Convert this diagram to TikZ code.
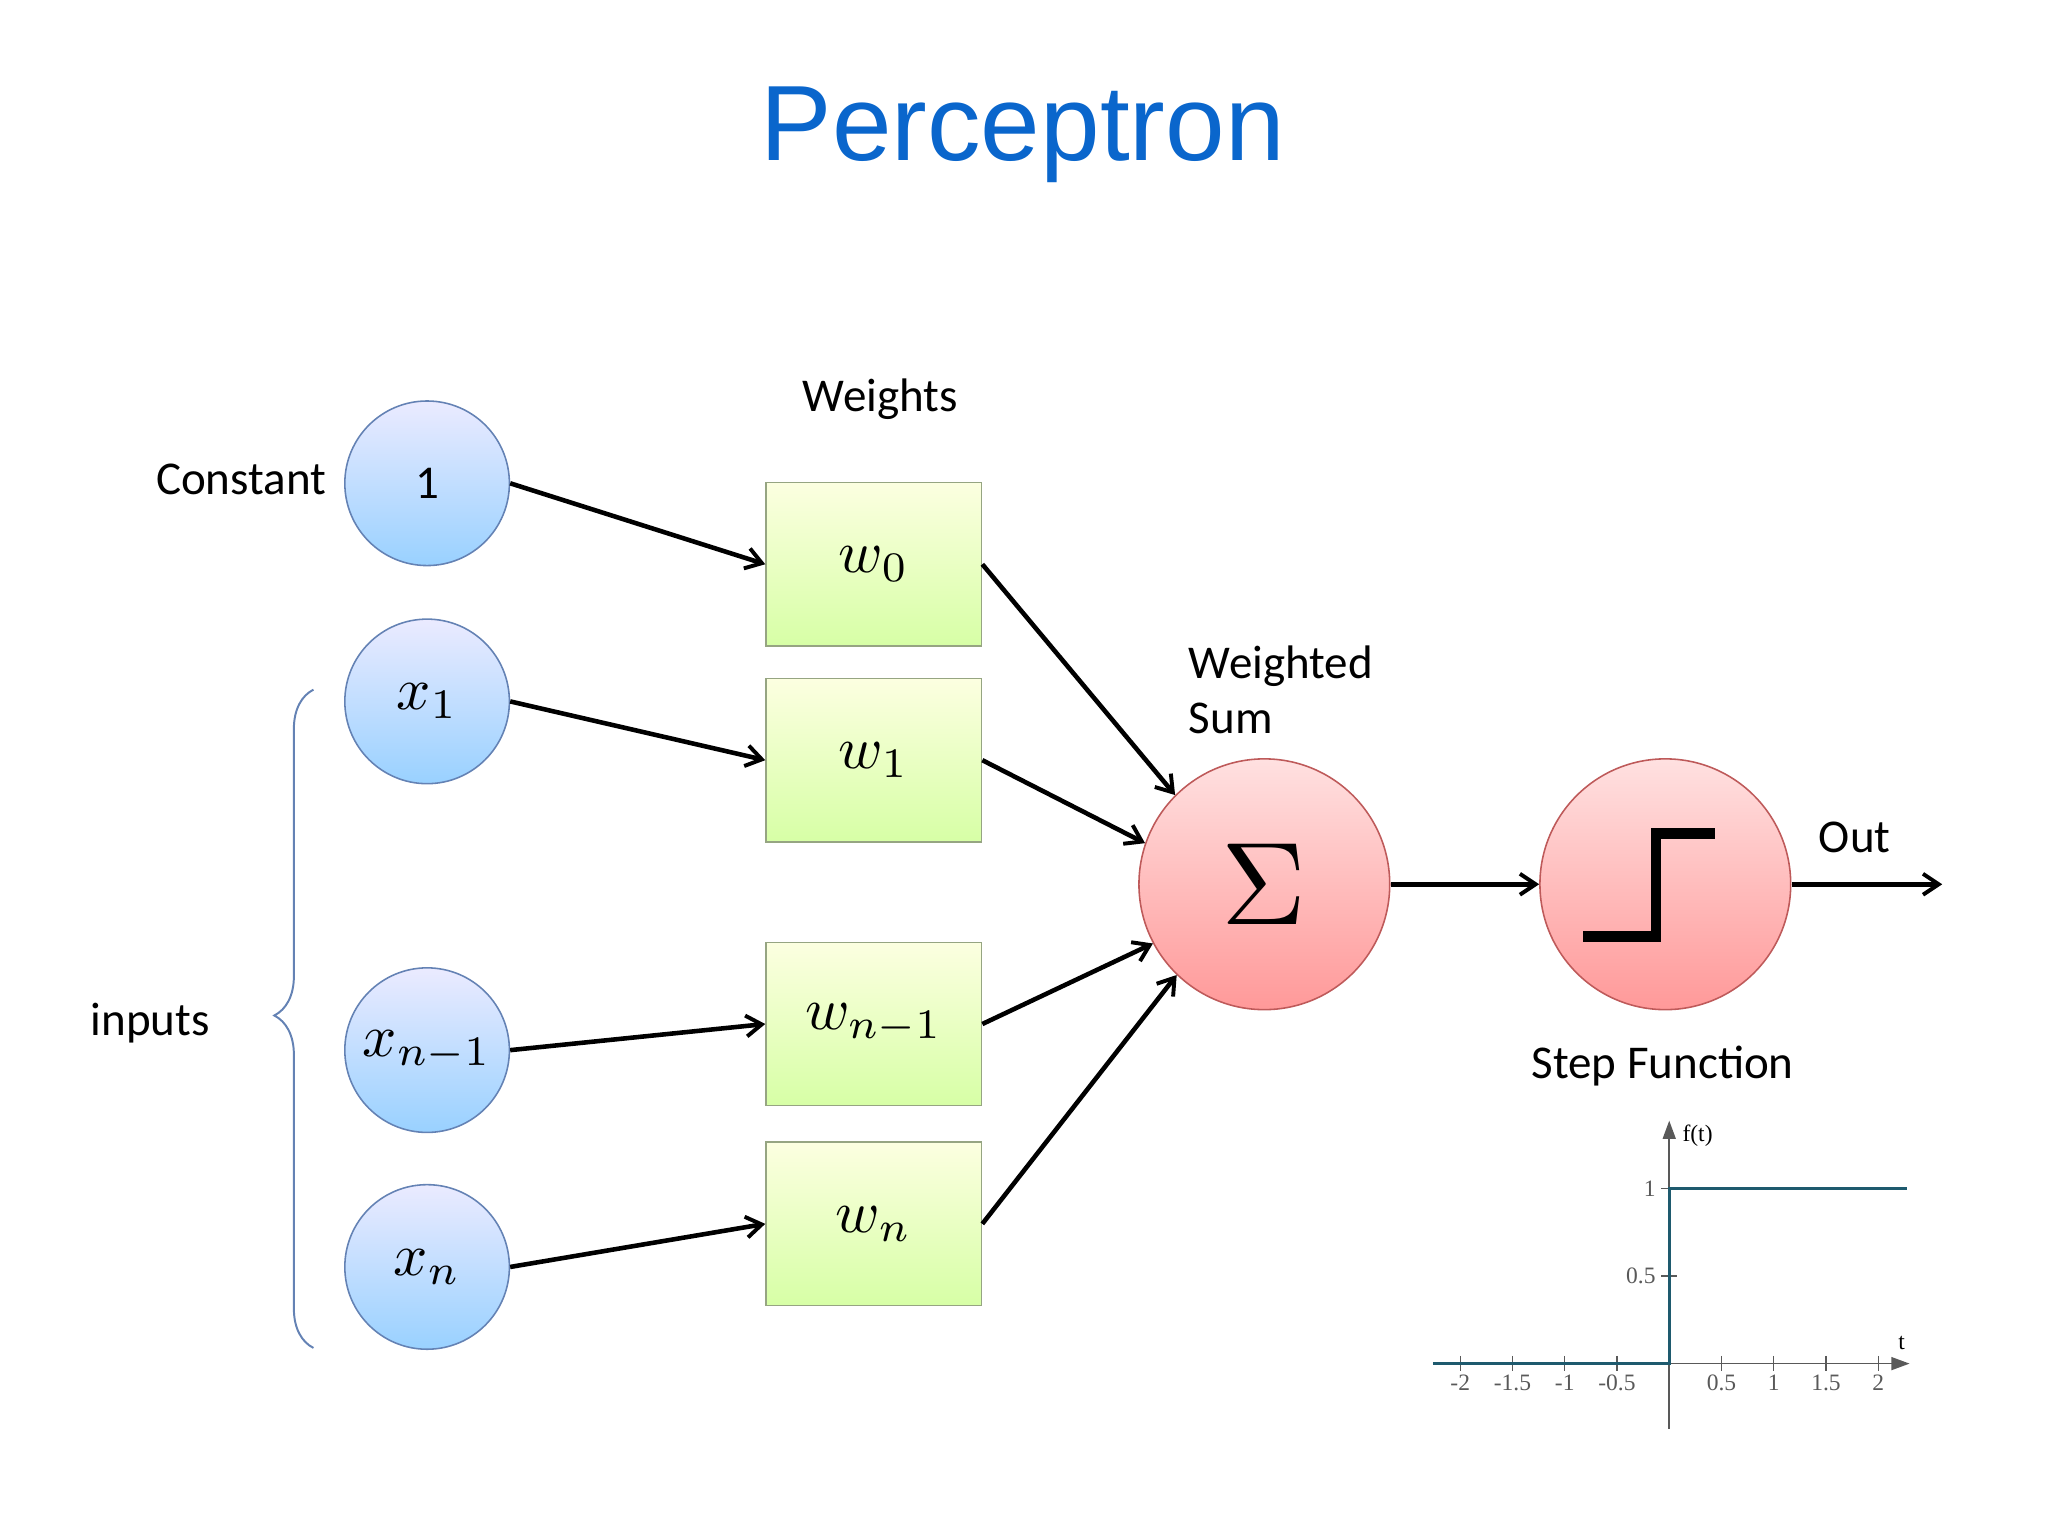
\documentclass[tikz,border=0pt]{standalone}
\usepackage{fontspec}
\setmainfont{Carlito}
\newfontfamily\titlefont{Liberation Sans}
\newfontfamily\tickfont{Liberation Serif}
\usetikzlibrary{arrows.meta,decorations.pathreplacing}
\definecolor{tblue}{RGB}{10,102,204}
\definecolor{cborder}{RGB}{100,130,180}
\definecolor{gborder}{RGB}{150,165,130}
\definecolor{rborder}{RGB}{190,90,90}
\definecolor{plotc}{RGB}{30,90,110}
\newcommand{\bigmathtxt}[1]{\scalebox{4.6}{$#1$}}
\begin{document}
\begin{tikzpicture}[x=1pt,y=-1pt,
  inp/.style={circle,minimum size=126pt,draw=cborder,line width=1.2pt,top color=blue!8!white,bottom color=blue!45!cyan!40!white,inner sep=0pt},
  wbox/.style={rectangle,minimum width=165pt,minimum height=125pt,draw=gborder,line width=1.2pt,top color=green!10!yellow!12!white,bottom color=green!45!yellow!35!white,inner sep=0pt},
  neu/.style={circle,minimum size=192pt,draw=rborder,line width=1.2pt,top color=red!12!white,bottom color=red!40!white,inner sep=0pt},
  lab/.style={font=\fontsize{36}{42}\selectfont,inner sep=0pt},
  arr/.style={-{Straight Barb[length=12pt,width=16pt,line width=3pt]},line width=3.5pt},
  tick/.style={font=\fontsize{18}{19}\selectfont\tickfont,inner sep=2pt}]
\useasboundingbox (0,0) rectangle (1568,1176);
\node[font=\fontsize{82}{90}\selectfont\titlefont,text=tblue] (title) at (783,103) {Perceptron};
\node[inp,font=\fontsize{36}{40}\selectfont] (c) at (327,370) {1};
\node[inp] (x1) at (327,537) {\bigmathtxt{x_1}};
\node[inp] (xn1) at (327,804) {\bigmathtxt{x_{n-1}}};
\node[inp] (xn) at (327,970) {\bigmathtxt{x_n}};
\node[wbox] (w0) at (669,432) {\bigmathtxt{w_0}};
\node[wbox] (w1) at (669,582) {\bigmathtxt{w_1}};
\node[wbox] (wn1) at (669,784) {\bigmathtxt{w_{n-1}}};
\node[wbox] (wn) at (669,937) {\bigmathtxt{w_n}};
\node[neu] (s) at (968,677) {\scalebox{9}{$\Sigma$}};
\node[neu] (st) at (1275,677) {};
\draw[line width=8pt,line join=miter] (1212,717) -- (1268,717) -- (1268,638) -- (1313,638);
\coordinate (out) at (1487,677);
\draw[arr] (c.east) -- (w0.west);
\draw[arr] (x1.east) -- (w1.west);
\draw[arr] (xn1.east) -- (wn1.west);
\draw[arr] (xn.east) -- (wn.west);
\draw[arr] (w0.east) -- (s.135);
\draw[arr] (w1.east) -- (s.161);
\draw[arr] (wn1.east) -- (s.208);
\draw[arr] (wn.east) -- (s.226);
\draw[arr] (s.east) -- (st.west);
\draw[arr] (st.east) -- (out);
\node[lab] (lw) at (674,306) {Weights};
\node[lab,anchor=east] (lc) at (250,367) {Constant};
\node[lab,anchor=west,align=left] (lws) at (910,528) {Weighted\\Sum};
\node[lab] (lo) at (1420,641) {Out};
\node[lab] (lsf) at (1273,816) {Step Function};
\node[lab] (li) at (115,783) {inputs};
\draw[cborder,line width=1.5pt,decorate,decoration={brace,amplitude=30pt,aspect=0.505}] (240,1032) -- (240,528);
% plot
\draw[gray!70!black,line width=1.2pt,-{Triangle[length=14pt,width=10pt]}] (1097,1044) -- (1462,1044);
\draw[gray!70!black,line width=1.2pt,-{Triangle[length=14pt,width=10pt]}] (1278,1094) -- (1278,858);
\foreach \v/\t in {-4/-2,-3/-1.5,-2/-1,-1/-0.5,1/0.5,2/1,3/1.5,4/2}
  \draw[gray!70!black,line width=1pt] (1278+40*\v,1038) -- (1278+40*\v,1050) node[tick,below] {\t};
\draw[gray!70!black,line width=1pt] (1272,910) -- (1284,910) node[tick,left,pos=0,xshift=-2pt] {1};
\draw[gray!70!black,line width=1pt] (1272,977) -- (1284,977) node[tick,left,pos=0,xshift=-2pt] {0.5};
\node[tick,anchor=south west] at (1286,880) {f(t)};
\node[tick] at (1456,1028) {t};
\draw[plotc,line width=2.5pt] (1097,1044) -- (1278,1044) -- (1278,910) -- (1460,910);
\end{tikzpicture}
\end{document}
